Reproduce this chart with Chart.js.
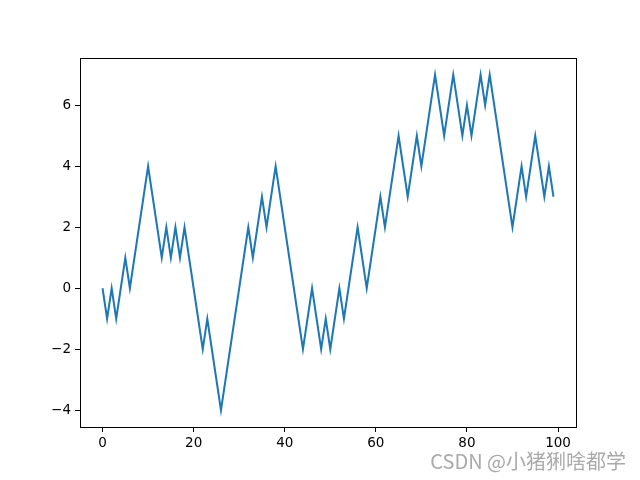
<!DOCTYPE html>
<html>
<head>
<meta charset="utf-8">
<script src="https://cdn.jsdelivr.net/npm/chart.js@4.4.0/dist/chart.umd.min.js"></script>
<style>
 html, body { margin: 0; padding: 0; background: #fff; }
 #walkChart { display: block; }
</style>
</head>
<body>
<canvas id="walkChart" width="640" height="480"></canvas>
<script>
// random walk
let steps = [];
for (let i = 0; i < 100; i++) steps.push(i);
let walk = [
 0, -1, 0, -1, 0, 1, 0, 1, 2, 3,
 4, 3, 2, 1, 2, 1, 2, 1, 2, 1,
 0, -1, -2, -1, -2, -3, -4, -3, -2, -1,
 0, 1, 2, 1, 2, 3, 2, 3, 4, 3,
 2, 1, 0, -1, -2, -1, 0, -1, -2, -1,
 -2, -1, 0, -1, 0, 1, 2, 1, 0, 1,
 2, 3, 2, 3, 4, 5, 4, 3, 4, 5,
 4, 5, 6, 7, 6, 5, 6, 7, 6, 5,
 6, 5, 6, 7, 6, 7, 6, 5, 4, 3,
 2, 3, 4, 3, 4, 5, 4, 3, 4, 3
];
let xTicks = [0, 20, 40, 60, 80, 100];
let yTicks = [-4, -2, 0, 2, 4, 6];
let watermark = 'CSDN @小猪猁啥都学';

let fmt = v => String(v).replace('-', '\u2212');

let frame = {
 id: 'frame',
 afterDraw(chart) {
  let a = chart.chartArea;
  let ctx = chart.ctx;
  ctx.save();
  ctx.strokeStyle = '#000';
  ctx.lineWidth = 1;
  ctx.strokeRect(Math.round(a.left) + 0.5, Math.round(a.top) + 0.5,
   Math.round(a.right - a.left), Math.round(a.bottom - a.top));
  ctx.font = '20px "Noto Sans CJK SC", sans-serif';
  ctx.fillStyle = 'rgba(140, 140, 140, 0.75)';
  ctx.textAlign = 'right';
  ctx.textBaseline = 'alphabetic';
  ctx.fillText(watermark, 626, 469);
  ctx.restore();
 }
};

let walkChart = document.getElementById('walkChart').getContext('2d');
let chart1 = new Chart(walkChart, {
 type: 'scatter',
 data: {
  datasets: [
   {
    data: steps.map((x, i) => ({ x: x, y: walk[i] })),
    showLine: true,
    borderColor: '#1f77b4',
    borderWidth: 2,
    pointRadius: 0,
    tension: 0,
    fill: false,
   }
  ]
 },
 options: {
  responsive: false,
  animation: false,
  layout: { padding: { left: 0, top: 58, right: 64, bottom: 0 } },
  plugins: { legend: { display: false }, tooltip: { enabled: false } },
  scales: {
   x: {
    type: 'linear',
    min: -4.95,
    max: 103.95,
    afterBuildTicks: s => { s.ticks = xTicks.map(v => ({ value: v })); },
    afterFit: s => { s.height = 53; },
    grid: { drawOnChartArea: false, tickLength: 5, color: '#000', tickColor: '#000' },
    border: { display: false },
    ticks: {
     color: '#000',
     padding: 3,
     maxRotation: 0,
     font: { family: 'DejaVu Sans', size: 13.5 },
     callback: v => fmt(v),
    }
   },
   y: {
    min: -4.55,
    max: 7.55,
    afterBuildTicks: s => { s.ticks = yTicks.map(v => ({ value: v })); },
    afterFit: s => { s.width = 80; },
    grid: { drawOnChartArea: false, tickLength: 5, color: '#000', tickColor: '#000' },
    border: { display: false },
    ticks: {
     color: '#000',
     padding: 4,
     font: { family: 'DejaVu Sans', size: 13.5 },
     callback: v => fmt(v),
    }
   }
  }
 },
 plugins: [frame]
});
</script>
</body>
</html>
